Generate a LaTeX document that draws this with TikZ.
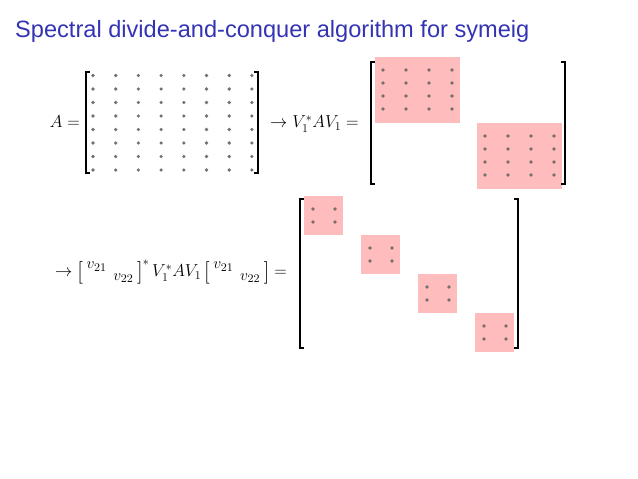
\documentclass[tikz,border=0pt]{standalone}
\usepackage{amsmath}
\usepackage{graphicx}
\usepackage{fontspec}
\setmainfont{Liberation Serif}
\newfontfamily\titlefont{Liberation Sans}
\definecolor{titleblue}{RGB}{51,51,179}
\definecolor{blockpink}{RGB}{255,188,188}
\definecolor{dotgray}{RGB}{120,110,110}
\tikzset{
 brk/.style={line width=1.1pt},
 blk/.style={fill=blockpink,draw=none},
 eq/.style={inner sep=0pt,font=\fontsize{18.5}{22}\selectfont}
}
\newcommand{\mydot}[2]{\fill[dotgray] (#1,#2) circle (1.8);}
\newcommand{\vmat}{\vcenter{\hbox{\scalebox{1.3}{$\left[\begin{smallmatrix}v_{21}&\\&v_{22}\end{smallmatrix}\right]$}}}}
\begin{document}
\begin{tikzpicture}[x=1pt,y=-1pt]
\useasboundingbox (0,0) rectangle (638,479);
\node[anchor=west,inner sep=0pt,text=titleblue,font=\titlefont\fontsize{23.6}{27}\selectfont] (title) at (15,31) {Spectral divide-and-conquer algorithm for symeig};
% row 1
\node[eq,anchor=east] (aeq) at (80,122) {$A=$};
\draw[brk] (90,72) -- (86,72) -- (86,173) -- (90,173);
\draw[brk] (254,72) -- (258,72) -- (258,173) -- (254,173);
\foreach \i in {0,...,7} \foreach \j in {0,...,7} {\mydot{93+\i*22.7}{75.5+\j*13.5}}
\node[eq,anchor=west] (v1) at (270,124) {$\rightarrow V_1^*AV_1=$};
\fill[blk] (375,57) rectangle (460,123);
\fill[blk] (477,123) rectangle (562,189);
\foreach \i in {0,...,3} \foreach \j in {0,...,3} {\mydot{383+\i*23}{70+\j*13}\mydot{485+\i*23}{136+\j*13}}
\draw[brk] (375,62) -- (371,62) -- (371,184) -- (375,184);
\draw[brk] (561,62) -- (565,62) -- (565,184) -- (561,184);
% row 2
\node[eq,anchor=west] (v2) at (55,272) {$\rightarrow\vmat^*\,V_1^*AV_1\,\vmat=$};
\foreach \k in {0,...,3} {
 \fill[blk] (304+\k*57,196+\k*39) rectangle (343+\k*57,235+\k*39);
 \mydot{313+\k*57}{209+\k*39}\mydot{335+\k*57}{209+\k*39}
 \mydot{313+\k*57}{222+\k*39}\mydot{335+\k*57}{222+\k*39}
}
\draw[brk] (304,199) -- (300,199) -- (300,348) -- (304,348);
\draw[brk] (514,199) -- (518,199) -- (518,348) -- (514,348);
\end{tikzpicture}
\end{document}
